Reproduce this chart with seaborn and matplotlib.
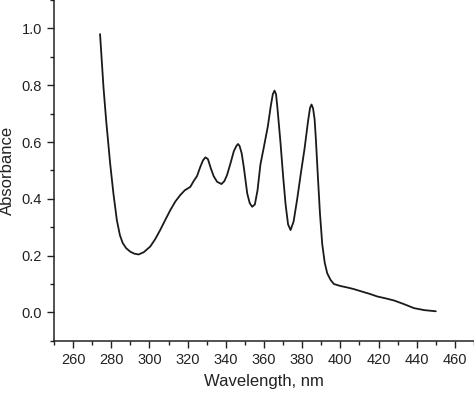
import numpy as np
import pandas as pd
import matplotlib
matplotlib.use("Agg")
import matplotlib.pyplot as plt
from matplotlib.ticker import MultipleLocator, FormatStrFormatter
import seaborn as sns

# Absorption spectrum
wavelength = [274.1, 275.9, 277.3, 279.4, 281.1, 282.9, 284.5, 286.0, 287.8, 289.9, 292.0,
              294.3, 297.0, 300.4, 303.0, 305.6, 308.0, 310.9, 313.5, 316.1, 318.5, 321.4,
              323.1, 324.9, 326.6, 328.0, 329.3, 330.6, 332.0, 333.6, 335.4, 337.7, 339.2,
              340.6, 342.4, 344.2, 345.6, 346.4, 347.2, 348.3, 349.4, 351.2, 352.5, 353.8,
              355.2, 356.6, 358.1, 360.0, 362.0, 363.5, 364.6, 365.5, 366.3, 367.0, 368.6,
              370.0, 371.3, 372.6, 373.9, 375.5, 377.4, 379.3, 381.2, 383.0, 384.1, 384.9,
              385.7, 386.5, 387.2, 388.2, 389.3, 390.5, 391.8, 393.1, 394.8, 396.6, 400.0,
              403.5, 407.1, 411.0, 415.0, 419.4, 424.0, 428.1, 433.0, 438.6, 444.0, 450.0]
absorbance = [0.980, 0.793, 0.676, 0.524, 0.419, 0.325, 0.272, 0.244, 0.226, 0.214, 0.207,
              0.204, 0.212, 0.232, 0.258, 0.290, 0.322, 0.360, 0.390, 0.413, 0.430, 0.442,
              0.462, 0.480, 0.512, 0.535, 0.546, 0.540, 0.510, 0.480, 0.460, 0.452, 0.462,
              0.483, 0.524, 0.568, 0.587, 0.593, 0.586, 0.560, 0.512, 0.419, 0.385, 0.372,
              0.380, 0.430, 0.520, 0.585, 0.655, 0.725, 0.768, 0.781, 0.768, 0.722, 0.600,
              0.480, 0.380, 0.310, 0.290, 0.320, 0.400, 0.490, 0.575, 0.670, 0.720, 0.732,
              0.718, 0.680, 0.606, 0.480, 0.349, 0.240, 0.175, 0.138, 0.115, 0.100, 0.093,
              0.088, 0.082, 0.074, 0.066, 0.056, 0.049, 0.042, 0.030, 0.015, 0.008, 0.004]

df = pd.DataFrame({"Wavelength, nm": wavelength, "Absorbance": absorbance})

sns.set_style("ticks")
plt.rcParams["font.family"] = ["Liberation Sans", "DejaVu Sans"]

fig = plt.figure(figsize=(4.74, 3.94), dpi=100)
ax = fig.add_axes([0.114, 0.135, 0.886, 0.865])

sns.lineplot(data=df, x="Wavelength, nm", y="Absorbance", ax=ax,
             color="#1a1a1a", linewidth=1.3)

ax.set_xlim(250, 470)
ax.set_ylim(-0.1, 1.1)
ax.xaxis.set_minor_locator(MultipleLocator(10))
ax.yaxis.set_minor_locator(MultipleLocator(0.1))
ax.yaxis.set_major_formatter(FormatStrFormatter("%.1f"))
ax.set_xticks(np.arange(260, 461, 20))
ax.set_yticks(np.arange(0.0, 1.01, 0.2))

ax.tick_params(which="major", direction="out", length=5, width=1, labelsize=10.5,
               color="#222222", labelcolor="#222222")
ax.tick_params(which="minor", direction="out", length=3, width=1, color="#222222")
ax.set_xlabel("Wavelength, nm", fontsize=12, color="#222222", labelpad=5)
ax.set_ylabel("Absorbance", fontsize=12, color="#222222", labelpad=5)

sns.despine(ax=ax)
for s in ["left", "bottom"]:
    ax.spines[s].set_color("#222222")
    ax.spines[s].set_linewidth(1.1)

fig.savefig("out.png", dpi=100)
